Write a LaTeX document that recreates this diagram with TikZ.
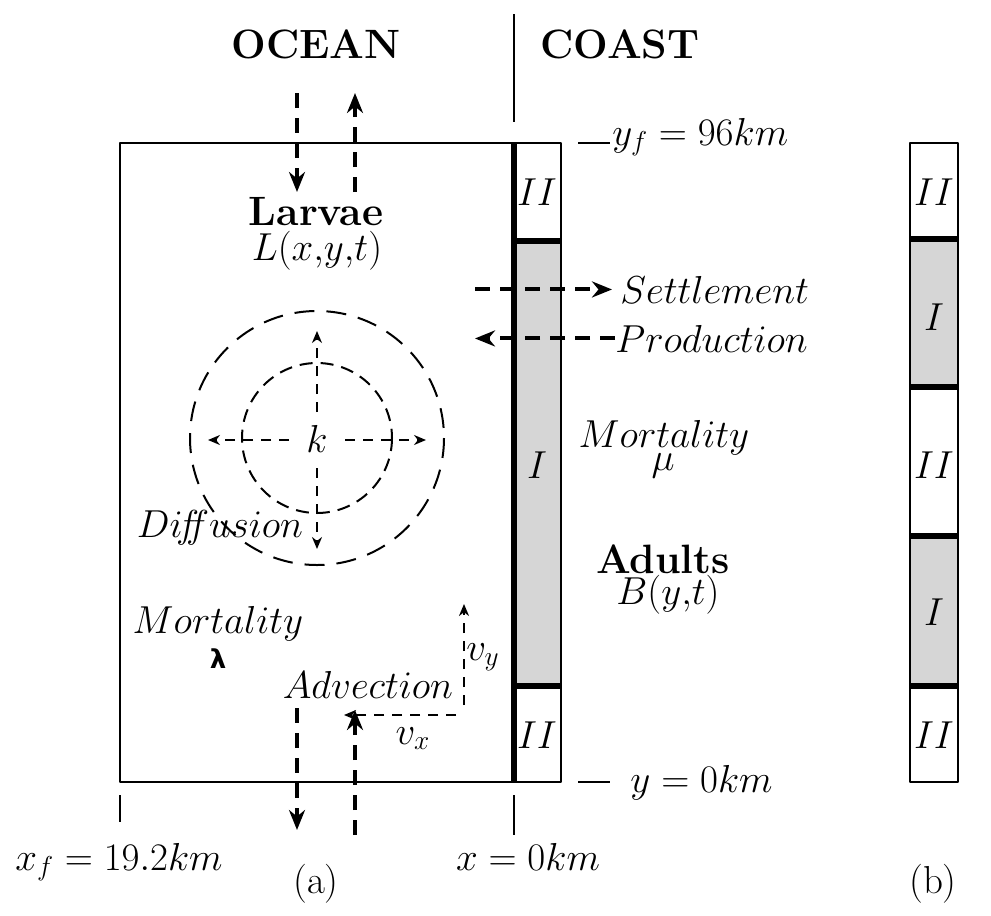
\RequirePackage{fix-cm}
\documentclass[tikz,border=0pt]{standalone}
\usepackage{fontspec}
\newfontfamily\lamfont{DejaVu Sans}
\usetikzlibrary{arrows.meta}
\begin{document}
\begin{tikzpicture}[x=0.5pt,y=-0.5pt,font=\fontsize{19.5}{24}\selectfont,line join=round,>={Stealth[length=10pt,width=8pt]},
	txt/.style={anchor=base,inner sep=0pt},
	head/.style={txt,font=\fontsize{20.5}{24}\selectfont\bfseries},
	flux/.style={->,line width=2pt,dash pattern=on 7.5pt off 5pt},
	slim flux/.style={->,line width=1pt,dash pattern=on 5pt off 4pt,>={Stealth[length=6pt,width=5pt]}},
	edge/.style={line width=1.3pt},
	bar/.style={line width=2.6pt}]
	\useasboundingbox (0,0) rectangle (991,916);
	% (a) ocean and coast
	\fill[black!16] (514,241) rectangle (561,686);
	\draw[edge] (120,143) rectangle (514,782);
	\draw[edge] (514,143) rectangle (561,782);
	\draw[bar] (514,143) -- (514,782) (514,241) -- (561,241) (514,686) -- (561,686);
	\draw[edge] (514,14) -- (514,122);
	\node[head] (ocean) at (316,58) {OCEAN};
	\node[head] (coast) at (620,58) {COAST};
	\node[head] (larvae) at (316,225) {Larvae};
	\node[txt] (lxyt) at (317,260) {$L(x{,}y{,}t)$};
	\node[txt] (c1) at (537,205) {$II$};
	\node[txt] (c2) at (537,478) {$I$};
	\node[txt] (c3) at (537,748) {$II$};
	\draw[flux] (297,93) -- (297,192);
	\draw[flux] (355,192) -- (355,93);
	\draw[flux] (297,708) -- (297,830);
	\draw[flux] (355,835) -- (355,710);
	% diffusion
	\draw[line width=1pt,dash pattern=on 10pt off 6pt] (317,438) circle (127);
	\draw[line width=1pt,dash pattern=on 6.5pt off 4pt] (317,438) circle (75);
	\node[txt] (k) at (317,452) {$k$};
	\foreach \a in {0,90,180,270}
		\draw[slim flux] (317,440) ++(\a:28) -- ++(\a:81);
	\node[txt] (diff) at (220,537) {$Di\!f\!\!fusion$};
	% mortality and advection
	\node[txt] (mortl) at (218,633) {$Mortality$};
	\node[txt] (lam) at (218,668) {\fontsize{13}{14}\selectfont\lamfont\bfseries λ};
	\node[txt] (adv) at (368,698) {$Advection$};
	\draw[slim flux] (464,705) -- (464,604);
	\draw[slim flux] (456,715) -- (344,715);
	\node[txt] (vy) at (483,660) {$v_y$};
	\node[txt] (vx) at (413,744) {$v_x$};
	% coast labels
	\node[txt,anchor=base west] (settle) at (620,303) {$Settlement$};
	\node[txt,anchor=base west] (prod) at (615,352) {$Production$};
	\draw[flux] (settle.west) ++(-145,0) -- +(137,0);
	\draw[flux] (prod.west) -- ++(-140,0);
	\node[txt] (mortr) at (664,447) {$Mortality$};
	\node[txt] (mu) at (663,470) {$\mu$};
	\node[head] (adults) at (663,573) {Adults};
	\node[txt] (bxy) at (668,604) {$B(y{,}t)$};
	% scales
	\draw[edge] (578,143) -- (610,143);
	\node[txt,anchor=base west] (yf) at (612,145) {$y_f=96km$};
	\draw[edge] (578,782) -- (610,782);
	\node[txt,anchor=base west] (y0) at (630,792) {$y=0km$};
	\draw[edge] (120,795) -- (120,822);
	\draw[edge] (514,795) -- (514,835);
	\node[txt] (xf) at (119,870) {$x_f=19.2km$};
	\node[txt] (x0) at (528,870) {$x=0km$};
	\node[txt] (capa) at (316,893) {(a)};
	% (b) strip
	\fill[black!16] (910,239) rectangle (958,387) (910,536) rectangle (958,686);
	\draw[edge] (910,143) rectangle (958,782);
	\foreach \yy in {239,387,536,686}
		\draw[bar] (910,\yy) -- (958,\yy);
	\foreach \yy/\lab in {205/II,330/I,478/II,625/I,748/II}
		\node[txt] at (934,\yy) {$\lab$};
	\node[txt] (capb) at (933,893) {(b)};
\end{tikzpicture}
\end{document}
